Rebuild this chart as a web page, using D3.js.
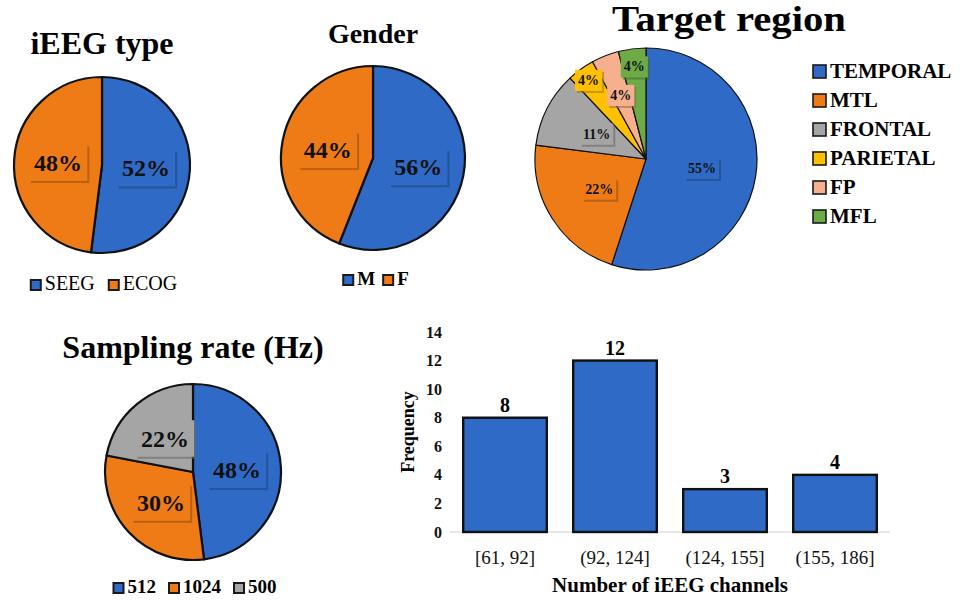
<!DOCTYPE html>
<html>
<head>
<meta charset="utf-8">
<script src="https://cdn.jsdelivr.net/npm/d3@7/dist/d3.min.js"></script>
<style>
  body { margin: 0; background: #fff; }
</style>
</head>
<body>
<div id="chart"></div>
<script>
// Data
const typeLabels = ['SEEG', 'ECOG']
const typeValues = [52, 48]

const genderLabels = ['M', 'F']
const genderValues = [56, 44]

const regionLabels = ['TEMPORAL', 'MTL', 'FRONTAL', 'PARIETAL', 'FP', 'MFL']
const regionValues = [55, 22, 11, 4, 4, 4]

const rateLabels = ['512', '1024', '500']
const rateValues = [48, 30, 22]

const channelBins = ['[61, 92]', '(92, 124]', '(124, 155]', '(155, 186]']
const channelFreq = [8, 12, 3, 4]
const freqTicks = [0, 2, 4, 6, 8, 10, 12, 14]

const palette = ['#2f6bc6', '#ee7b16', '#a5a5a5', '#ffc000', '#f6b08e', '#6cab45']
const FONT = '"Liberation Serif", "DejaVu Serif", serif'

const svg = d3.select('#chart')
  .append('svg')
  .attr('width', 960)
  .attr('height', 608)
  .style('display', 'block')
  .style('font-family', FONT)

function drawPie(opt) {
  const g = svg.append('g')

  const title = g.append('text')
    .attr('x', opt.titleX)
    .attr('y', opt.titleY)
    .attr('text-anchor', 'middle')
    .style('font-family', FONT)
    .style('font-size', opt.titleSize + 'px')
    .style('font-weight', 'bold')
    .text(opt.title)
  if (opt.titleLength) {
    title.attr('textLength', opt.titleLength).attr('lengthAdjust', 'spacingAndGlyphs')
  }

  const slices = d3.pie().value(d => d).sort(null)(opt.values)
  const arc = d3.arc().innerRadius(0).outerRadius(opt.r)

  const pieG = g.append('g')
    .attr('transform', `translate(${opt.cx},${opt.cy})`)

  pieG.selectAll('path')
    .data(slices)
    .join('path')
    .attr('d', arc)
    .attr('fill', (d, i) => palette[i])
    .attr('stroke', '#111')
    .attr('stroke-width', opt.stroke)
    .attr('stroke-linejoin', 'round')

  // data labels with a little shadowed box, like the spreadsheet ones
  const lab = pieG.selectAll('g.lab')
    .data(slices)
    .join('g')
    .attr('class', 'lab')
    .attr('transform', (d, i) => {
      const k = opt.labelR[i] !== undefined ? opt.labelR[i] : 0.5
      const c = d3.arc().innerRadius(0).outerRadius(opt.r * k * 2).centroid(d)
      return `translate(${c})`
    })

  lab.each(function (d, i) {
    const s = d3.select(this)
    const txt = s.append('text')
      .attr('text-anchor', 'middle')
      .attr('dy', '0.35em')
      .style('font-family', FONT)
      .style('font-size', opt.labelSize + 'px')
      .style('font-weight', 'bold')
      .attr('fill', '#111')
      .text(d.data + '%')
    const bb = txt.node().getBBox()
    const pad = opt.labelSize * 0.22
    const shade = d3.color(palette[i]).darker(1.4)
    s.insert('rect', 'text')
      .attr('x', bb.x - pad + 2)
      .attr('y', bb.y - pad + 2)
      .attr('width', bb.width + pad * 2)
      .attr('height', bb.height + pad * 2)
      .attr('fill', shade)
      .attr('opacity', 0.55)
    s.insert('rect', 'text')
      .attr('x', bb.x - pad)
      .attr('y', bb.y - pad)
      .attr('width', bb.width + pad * 2)
      .attr('height', bb.height + pad * 2)
      .attr('fill', palette[i])
  })

  // legend
  const leg = g.append('g')
  if (opt.legendVertical) {
    const item = leg.selectAll('g')
      .data(opt.labels)
      .join('g')
      .attr('transform', (d, i) => `translate(${opt.legendX},${opt.legendY + i * opt.legendStep})`)
    item.append('rect')
      .attr('x', 0).attr('y', -opt.sq)
      .attr('width', opt.sq).attr('height', opt.sq)
      .attr('fill', (d, i) => palette[i])
      .attr('stroke', '#1a1a1a').attr('stroke-width', 1.6)
    item.append('text')
      .attr('x', opt.sq + 4)
      .attr('y', 0)
      .style('font-family', FONT)
      .style('font-size', opt.legendSize + 'px')
      .style('font-weight', 'bold')
      .text(d => d)
  } else {
    let x = 0
    opt.labels.forEach((lbl, i) => {
      const it = leg.append('g')
      it.append('rect')
        .attr('x', 0).attr('y', -opt.sq)
        .attr('width', opt.sq).attr('height', opt.sq)
        .attr('fill', palette[i])
        .attr('stroke', '#1a1a1a').attr('stroke-width', 2)
      const t = it.append('text')
        .attr('x', opt.sq + 4)
        .attr('y', 0)
        .style('font-family', FONT)
        .style('font-size', opt.legendSize + 'px')
        .style('font-weight', opt.legendWeight)
        .text(lbl)
      const w = opt.sq + 4 + t.node().getComputedTextLength()
      it.attr('transform', `translate(${x},0)`)
      x += w + opt.legendGap
    })
    const total = x - opt.legendGap
    leg.attr('transform', `translate(${opt.legendX - total / 2},${opt.legendY})`)
  }
}

drawPie({
  title: 'iEEG type', titleX: 102, titleY: 54, titleSize: 32,
  labels: typeLabels, values: typeValues,
  cx: 102, cy: 165, r: 88, stroke: 2.2,
  labelR: [], labelSize: 24,
  legendX: 104, legendY: 290, legendSize: 20, legendWeight: 'normal', sq: 10, legendGap: 14
})

drawPie({
  title: 'Gender', titleX: 373, titleY: 43, titleSize: 28,
  labels: genderLabels, values: genderValues,
  cx: 373, cy: 158, r: 92, stroke: 2.2,
  labelR: [], labelSize: 24,
  legendX: 376, legendY: 285, legendSize: 19, legendWeight: 'bold', sq: 10, legendGap: 8
})

drawPie({
  title: 'Target region', titleX: 729, titleY: 31, titleSize: 35, titleLength: 234,
  labels: regionLabels, values: regionValues,
  cx: 646, cy: 159, r: 111, stroke: 1.2,
  labelR: [0.51, 0.5, 0.5, 0.88, 0.62, 0.84], labelSize: 14,
  legendVertical: true, legendX: 813, legendY: 78, legendStep: 29, legendSize: 21, sq: 13
})

drawPie({
  title: 'Sampling rate (Hz)', titleX: 193, titleY: 358, titleSize: 32,
  labels: rateLabels, values: rateValues,
  cx: 193, cy: 472, r: 88, stroke: 2.2,
  labelR: [], labelSize: 24,
  legendX: 195, legendY: 593, legendSize: 19, legendWeight: 'bold', sq: 10, legendGap: 13
})

// Bar chart
const bar = { left: 450, right: 890, top: 332, bottom: 532 }

const xScale = d3.scaleBand()
  .domain(channelBins)
  .range([bar.left, bar.right])
  .paddingInner(0.24)
  .paddingOuter(0.12)

const yScale = d3.scaleLinear()
  .domain([0, 14])
  .range([bar.bottom, bar.top])

const barG = svg.append('g')

barG.append('g')
  .attr('transform', `translate(${bar.left - 8},0)`)
  .call(d3.axisLeft(yScale).tickValues(freqTicks).tickSize(0).tickPadding(0))
  .call(g => g.select('.domain').remove())
  .call(g => g.selectAll('text')
    .style('font-family', FONT)
    .style('font-size', '16px')
    .style('font-weight', 'bold')
    .attr('fill', '#111'))

barG.append('line')
  .attr('x1', bar.left).attr('x2', bar.right)
  .attr('y1', bar.bottom).attr('y2', bar.bottom)
  .attr('stroke', '#d0d0d0').attr('stroke-width', 1)

barG.selectAll('rect.bar')
  .data(channelFreq)
  .join('rect')
  .attr('class', 'bar')
  .attr('x', (d, i) => xScale(channelBins[i]))
  .attr('y', d => yScale(d))
  .attr('width', xScale.bandwidth())
  .attr('height', d => yScale(0) - yScale(d))
  .attr('fill', palette[0])
  .attr('stroke', '#111')
  .attr('stroke-width', 2.4)

barG.selectAll('text.val')
  .data(channelFreq)
  .join('text')
  .attr('class', 'val')
  .attr('x', (d, i) => xScale(channelBins[i]) + xScale.bandwidth() / 2)
  .attr('y', d => yScale(d) - 6)
  .attr('text-anchor', 'middle')
  .style('font-family', FONT)
  .style('font-size', '20px')
  .style('font-weight', 'bold')
  .text(d => d)

barG.append('g')
  .attr('transform', `translate(0,${bar.bottom + 10})`)
  .call(d3.axisBottom(xScale).tickSize(0).tickPadding(0))
  .call(g => g.select('.domain').remove())
  .call(g => g.selectAll('text')
    .attr('dy', '1.15em')
    .style('font-family', FONT)
    .style('font-size', '19px')
    .attr('fill', '#111'))

barG.append('text')
  .attr('transform', `translate(414,${(bar.top + bar.bottom) / 2}) rotate(-90)`)
  .attr('text-anchor', 'middle')
  .style('font-family', FONT)
  .style('font-size', '18px')
  .style('font-weight', 'bold')
  .text('Frequency')

barG.append('text')
  .attr('x', 670)
  .attr('y', 592)
  .attr('text-anchor', 'middle')
  .style('font-family', FONT)
  .style('font-size', '21px')
  .style('font-weight', 'bold')
  .text('Number of iEEG channels')
</script>
</body>
</html>
